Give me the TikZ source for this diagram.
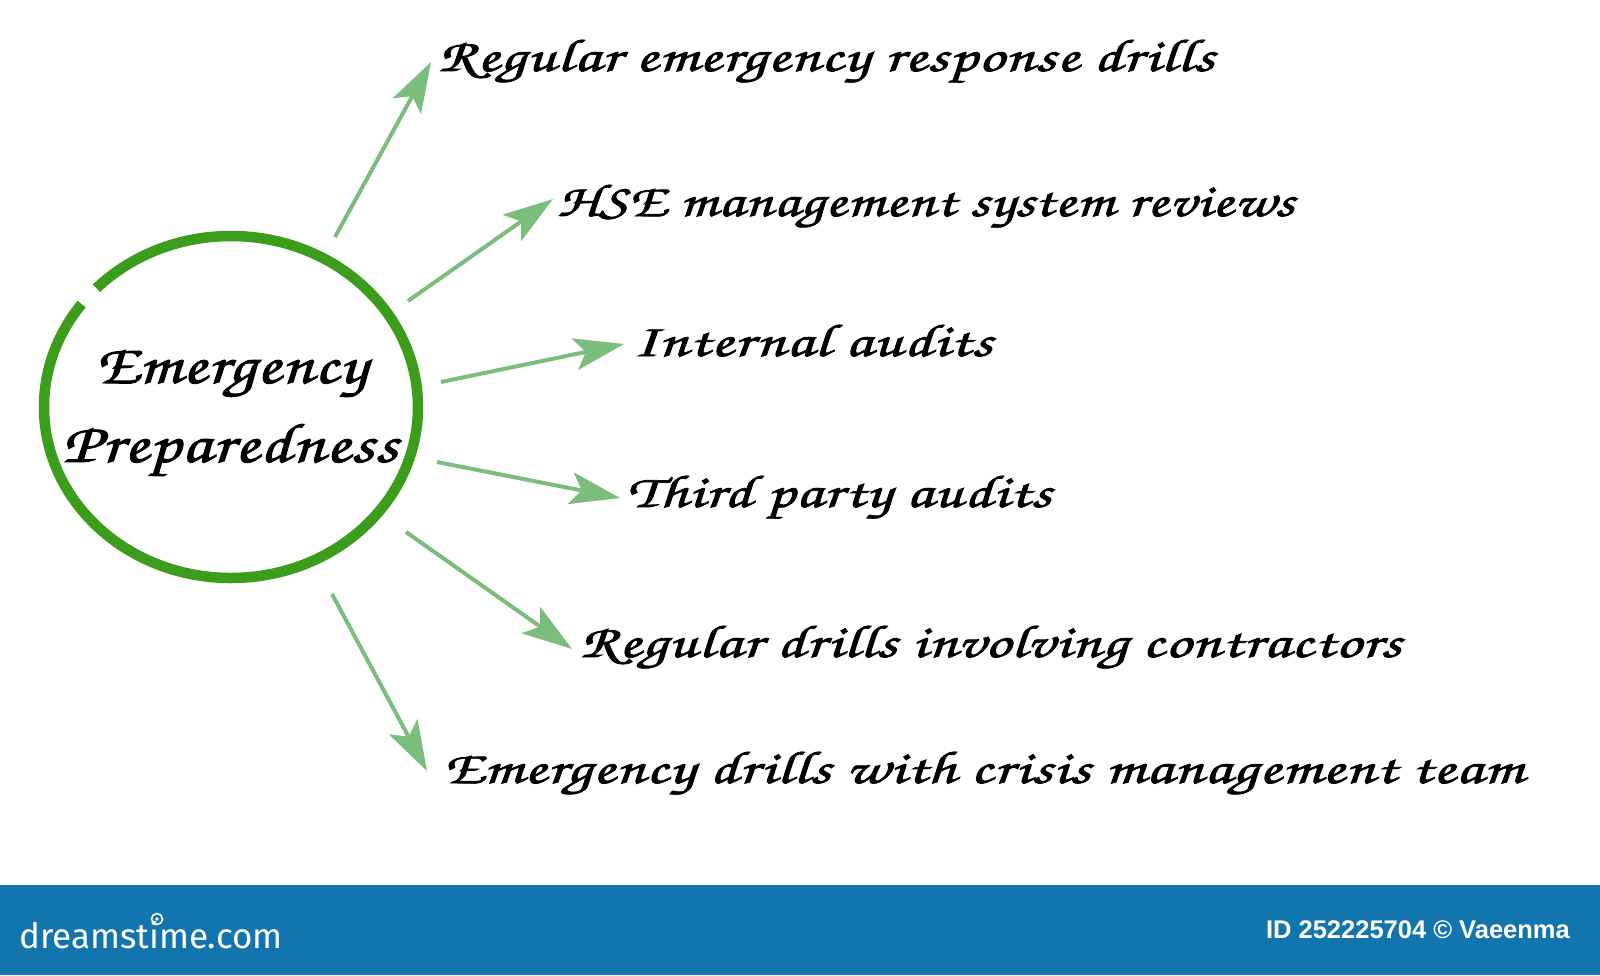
\documentclass[tikz,border=0pt]{standalone}
\usepackage{fontspec}
\usepackage{graphicx}
\usetikzlibrary{arrows.meta}
\newfontfamily\handfont[LetterSpace=2,FakeBold=1.6]{TeX Gyre Chorus}
\newfontfamily\barfont{Liberation Sans}
\newfontfamily\logofont{Fira Sans}
\definecolor{ringgreen}{HTML}{3C9C1C}
\definecolor{arrowgreen}{HTML}{7BBE7B}
\definecolor{barblue}{HTML}{1275AE}
\newcommand\fitwd[2]{\resizebox{#1}{\height}{#2}}
\tikzset{
  lbl/.style={anchor=base west, inner sep=0pt, font=\handfont\fontsize{46}{46}\selectfont, text=black},
  ctr/.style={anchor=base, inner sep=0pt, font=\handfont\fontsize{56}{56}\selectfont, text=black},
  arr/.style={draw=arrowgreen, line width=4pt, -{Stealth[length=50pt,width=32pt,inset=11pt]}},
}
\begin{document}
\begin{tikzpicture}[x=1pt,y=-1pt]
\useasboundingbox (0,0) rectangle (1600,975);
\fill[white] (0,0) rectangle (1600,975);
% ring
\draw[ringgreen, line width=10.5pt] (231,407) ++(224:187 and 171) arc[start angle=224, end angle=577, x radius=187, y radius=171];
\node[ctr] (c1) at (231,383) {\fitwd{272pt}{Emergency}};
\node[ctr] (c2) at (230,462) {\fitwd{335pt}{Preparedness}};
% labels
\node[lbl] (t1) at (438,71) {\fitwd{776pt}{Regular emergency response drills}};
\node[lbl] (t2) at (557,216) {\fitwd{737pt}{HSE management system reviews}};
\node[lbl] (t3) at (633,356) {\fitwd{359pt}{Internal audits}};
\node[lbl] (t4) at (627,507) {\fitwd{424pt}{Third party audits}};
\node[lbl] (t5) at (580,657) {\fitwd{821pt}{Regular drills involving contractors}};
\node[lbl] (t6) at (443,783) {\fitwd{1080pt}{Emergency drills with crisis management team}};
% arrow ends
\coordinate (s1) at (335,237); \coordinate (e1) at (431,62);
\coordinate (s2) at (408,301); \coordinate (e2) at (553,199);
\coordinate (s3) at (441,382); \coordinate (e3) at (624,344);
\coordinate (s4) at (437,462); \coordinate (e4) at (620,498);
\coordinate (s5) at (406,532); \coordinate (e5) at (572,649);
\coordinate (s6) at (332,594); \coordinate (e6) at (427,771);
\foreach \i in {1,...,6} \draw[arr] (s\i) -- (e\i);
% bottom bar
\fill[barblue] (0,885) rectangle (1600,975);
\node[anchor=base west, inner sep=0pt, text=white, font=\logofont\fontsize{35}{35}\selectfont] (logo) at (19,948) {dreamstime.com};
\draw[white, line width=1.6pt] (157,919) circle[radius=5.5];
\fill[white] (157,919) circle[radius=1.8];
\node[anchor=base east, inner sep=0pt, text=white, font=\barfont\bfseries\fontsize{25.5}{25.5}\selectfont] (id) at (1570,938) {ID 252225704 © Vaeenma};
\end{tikzpicture}
\end{document}
